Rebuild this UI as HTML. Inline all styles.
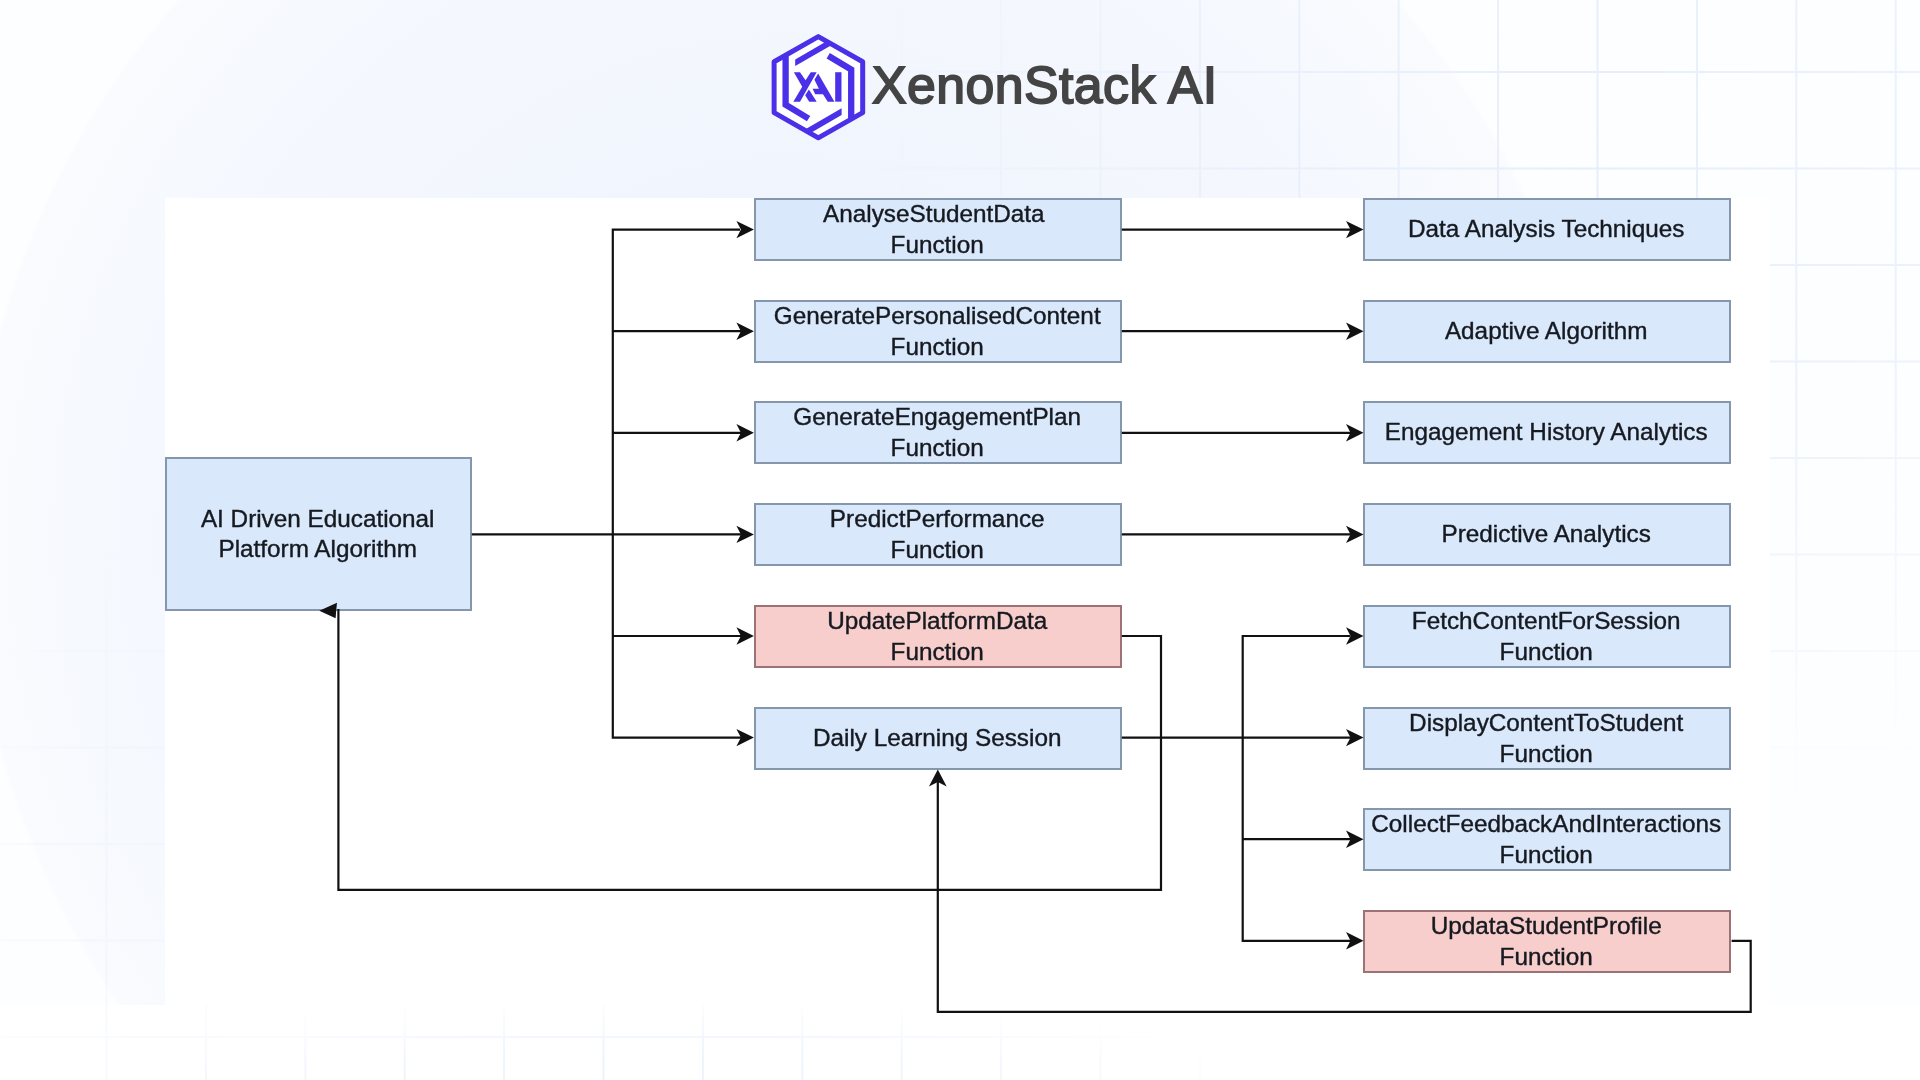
<!DOCTYPE html>
<html>
<head>
<meta charset="utf-8">
<style>
html,body{margin:0;padding:0;}
body{width:1920px;height:1080px;overflow:hidden;position:relative;font-family:"Liberation Sans",sans-serif;
background:#fff;}
#tint{position:absolute;left:0;top:0;width:1920px;height:1005px;
background:radial-gradient(circle 816px at 787px 540px,#edf2fc 0%,#f1f5fd 45%,#f5f8fe 80%,#f9fbfe 99.4%,#fdfeff 100%);}
svg{position:absolute;left:0;top:0;}
#panel{position:absolute;left:165px;top:198px;width:1605px;height:807px;background:#fff;}
.box{position:absolute;box-sizing:border-box;width:368px;height:63px;background:#dae8fc;border:2px solid #8497ad;
display:flex;align-items:center;padding-right:1.6px;justify-content:center;text-align:center;font-size:24.3px;line-height:30.4px;color:#161a20;-webkit-text-stroke:0.4px #161a20;will-change:transform;}
.red{background:#f8cecc;border-color:#9c7274;}
.s{padding-bottom:1px;}
.c{left:753.8px;}
.r{left:1363.4px;}
#brand{position:absolute;left:872px;top:55px;font-size:51.8px;line-height:60px;color:#444;-webkit-text-stroke:1.8px #444;white-space:nowrap;letter-spacing:0.45px;}
</style>
</head>
<body>
<div id="tint"></div>
<svg width="1920" height="1080" viewBox="0 0 1920 1080">
<defs>
<radialGradient id="rg"><stop offset="0" stop-color="#fff" stop-opacity="1"/><stop offset="0.5" stop-color="#fff" stop-opacity="0.75"/><stop offset="1" stop-color="#fff" stop-opacity="0"/></radialGradient>
<mask id="gm" maskUnits="userSpaceOnUse" x="0" y="0" width="1920" height="1080"><rect width="1920" height="1080" fill="#000"/>
<ellipse cx="1580" cy="160" rx="720" ry="680" fill="url(#rg)"/>
<ellipse cx="650" cy="1095" rx="650" ry="100" fill="url(#rg)" opacity="0.8"/>
<ellipse cx="110" cy="930" rx="170" ry="380" fill="url(#rg)" opacity="0.3"/>
</mask>
</defs>
<g stroke="#e6eefb" stroke-width="2" mask="url(#gm)"><line x1="106.5" y1="0" x2="106.5" y2="1080"/><line x1="205.9" y1="0" x2="205.9" y2="1080"/><line x1="305.3" y1="0" x2="305.3" y2="1080"/><line x1="404.7" y1="0" x2="404.7" y2="1080"/><line x1="504.1" y1="0" x2="504.1" y2="1080"/><line x1="603.5" y1="0" x2="603.5" y2="1080"/><line x1="702.9" y1="0" x2="702.9" y2="1080"/><line x1="802.3" y1="0" x2="802.3" y2="1080"/><line x1="901.7" y1="0" x2="901.7" y2="1080"/><line x1="1001.1" y1="0" x2="1001.1" y2="1080"/><line x1="1100.5" y1="0" x2="1100.5" y2="1080"/><line x1="1199.9" y1="0" x2="1199.9" y2="1080"/><line x1="1299.3" y1="0" x2="1299.3" y2="1080"/><line x1="1398.7" y1="0" x2="1398.7" y2="1080"/><line x1="1498.1" y1="0" x2="1498.1" y2="1080"/><line x1="1597.5" y1="0" x2="1597.5" y2="1080"/><line x1="1696.9" y1="0" x2="1696.9" y2="1080"/><line x1="1796.3" y1="0" x2="1796.3" y2="1080"/><line x1="1895.7" y1="0" x2="1895.7" y2="1080"/><line x1="0" y1="72.0" x2="1920" y2="72.0"/><line x1="0" y1="168.5" x2="1920" y2="168.5"/><line x1="0" y1="265.0" x2="1920" y2="265.0"/><line x1="0" y1="361.5" x2="1920" y2="361.5"/><line x1="0" y1="458.0" x2="1920" y2="458.0"/><line x1="0" y1="554.5" x2="1920" y2="554.5"/><line x1="0" y1="651.0" x2="1920" y2="651.0"/><line x1="0" y1="747.5" x2="1920" y2="747.5"/><line x1="0" y1="844.0" x2="1920" y2="844.0"/><line x1="0" y1="940.5" x2="1920" y2="940.5"/><line x1="0" y1="1037.0" x2="1920" y2="1037.0"/></g>
</svg>
<div id="panel"></div>
<div class="box c" style="top:198.0px">AnalyseStudentData&nbsp;<br>Function</div>
<div class="box c" style="top:299.7px">GeneratePersonalisedContent<br>Function</div>
<div class="box c" style="top:401.4px">GenerateEngagementPlan<br>Function</div>
<div class="box c" style="top:503.1px">PredictPerformance<br>Function</div>
<div class="box c red" style="top:604.8px">UpdatePlatformData<br>Function</div>
<div class="box c s" style="top:706.5px">Daily Learning Session</div>
<div class="box r s" style="top:198.0px">Data Analysis Techniques</div>
<div class="box r s" style="top:299.7px">Adaptive Algorithm</div>
<div class="box r s" style="top:401.4px">Engagement History Analytics</div>
<div class="box r s" style="top:503.1px">Predictive Analytics</div>
<div class="box r" style="top:604.8px">FetchContentForSession<br>Function</div>
<div class="box r" style="top:706.5px">DisplayContentToStudent<br>Function</div>
<div class="box r" style="top:808.2px">CollectFeedbackAndInteractions<br>Function</div>
<div class="box r red" style="top:909.9px">UpdataStudentProfile<br>Function</div>
<div class="box" style="left:164.6px;top:457.2px;width:307px;height:154.3px;">AI Driven Educational<br>Platform Algorithm</div>

<svg width="1920" height="1080" viewBox="0 0 1920 1080">
<g fill="none" stroke="#111" stroke-width="2.2">
<path d="M471.8 534.4H742"/>
<path d="M740 229.6H612.8V737.6H742"/>
<path d="M612.8 331.2H742M612.8 432.8H742M612.8 636.0H742"/>
<path d="M1121.8 229.6H1352M1121.8 331.2H1352M1121.8 432.8H1352M1121.8 534.4H1352M1121.8 737.6H1352"/>
<path d="M1121.8 636.0H1161V889.9H338.4V609"/>
<path d="M1350 636.0H1242.7V940.8H1352"/>
<path d="M1242.7 839.2H1352"/>
<path d="M1731.6 940.8H1750.7V1011.9H937.8V782"/>
</g>
<g fill="#111"><path d="M753.9 229.6L736.4 220.9L740.9 229.6L736.4 238.3Z"/><path d="M753.9 331.2L736.4 322.5L740.9 331.2L736.4 339.9Z"/><path d="M753.9 432.8L736.4 424.1L740.9 432.8L736.4 441.5Z"/><path d="M753.9 534.4L736.4 525.7L740.9 534.4L736.4 543.1Z"/><path d="M753.9 636.0L736.4 627.3L740.9 636.0L736.4 644.7Z"/><path d="M753.9 737.6L736.4 728.9L740.9 737.6L736.4 746.3Z"/><path d="M1363.5 229.6L1346.0 220.9L1350.5 229.6L1346.0 238.3Z"/><path d="M1363.5 331.2L1346.0 322.5L1350.5 331.2L1346.0 339.9Z"/><path d="M1363.5 432.8L1346.0 424.1L1350.5 432.8L1346.0 441.5Z"/><path d="M1363.5 534.4L1346.0 525.7L1350.5 534.4L1346.0 543.1Z"/><path d="M1363.5 636.0L1346.0 627.3L1350.5 636.0L1346.0 644.7Z"/><path d="M1363.5 737.6L1346.0 728.9L1350.5 737.6L1346.0 746.3Z"/><path d="M1363.5 839.2L1346.0 830.5L1350.5 839.2L1346.0 847.9Z"/><path d="M1363.5 940.8L1346.0 932.1L1350.5 940.8L1346.0 949.5Z"/><path d="M937.8 769.6L928.9 786.5L937.8 782L946.7 786.5Z"/><path d="M319.3 610.7L337 602.8L336.2 610.7L335.6 618.3Z"/></g>
</svg>
<svg width="1920" height="160" viewBox="0 0 1920 160">
<path d="M818.30 33.70L865.20 60.30L865.20 114.10L818.30 140.70L771.60 114.10L771.60 60.30Z" fill="#fff"/>
<path d="M818.31 36.59L862.70 61.74L862.70 112.66L818.31 137.81L774.10 112.66L774.10 61.74Z" fill="none" stroke="#4a30e8" stroke-width="5.0" stroke-linejoin="round"/><path d="M785.6 55.5L785.6 104.8L808.6 118.6" fill="none" stroke="#4a30e8" stroke-width="6.3" stroke-linejoin="miter"/><path d="M851.20 118.90L851.20 69.60L828.20 55.80" fill="none" stroke="#4a30e8" stroke-width="6.3" stroke-linejoin="miter"/><g fill="#4a30e8"><path d="M795.20 59.40L827.50 40.76L830.50 45.73L795.20 66.10Z"/><path d="M841.60 115.00L809.30 133.64L806.30 128.67L841.60 108.30Z"/><path d="M793.89 72.22L800.00 72.22L805.56 80.19L810.74 72.22L816.67 72.22L800.00 101.67L793.33 101.67L802.22 86.85Z"/><path d="M805.19 95.37L808.89 89.44L816.67 101.67L809.26 101.67Z"/><path d="M814.44 79.81L818.15 73.52L834.44 101.67L827.78 101.67L822.96 94.26L815.19 94.26L812.59 88.70L818.89 88.70Z"/><path d="M835.19 72.22L841.48 72.22L841.48 101.67L835.19 101.67Z"/></g>
</svg>
<div id="brand">XenonStack AI</div>
</body>
</html>
